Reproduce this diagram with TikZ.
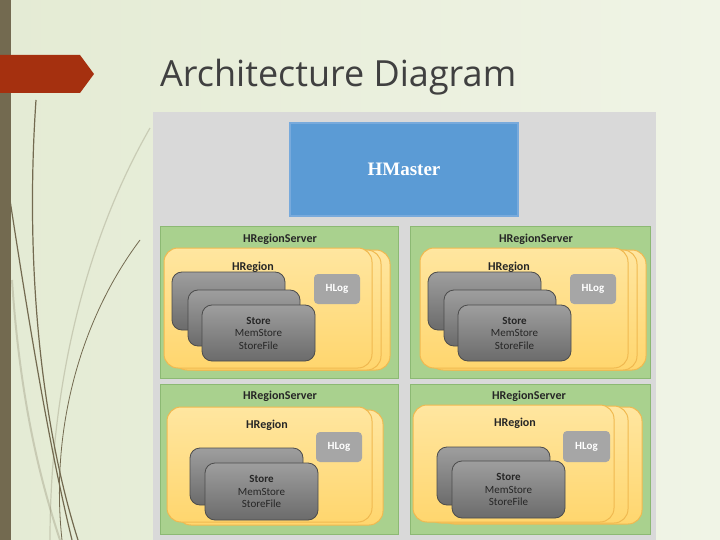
\documentclass[tikz,border=0pt]{standalone}
\usepackage{fontspec}
\setmainfont{Carlito}
\newfontfamily\titlefont{Open Sans}
\newfontfamily\serifb{Liberation Serif}
\definecolor{bgA}{RGB}{228,235,212}
\definecolor{bgB}{RGB}{240,244,230}
\definecolor{bark}{RGB}{115,106,80}
\definecolor{rust}{RGB}{165,48,15}
\definecolor{pgreen}{RGB}{169,209,142}
\definecolor{pgreenB}{RGB}{140,185,115}
\definecolor{regB}{RGB}{240,185,80}
\definecolor{regT}{RGB}{255,230,160}
\definecolor{regU}{RGB}{255,214,110}
\definecolor{hmB}{RGB}{120,170,220}
\definecolor{hmF}{RGB}{91,155,213}
\begin{document}
\begin{tikzpicture}[x=1pt,y=-1pt,
  panel/.style={draw=pgreenB,fill=pgreen,line width=0.8pt},
  region/.style={draw=regB,line width=1pt,rounded corners=14pt,top color=regT,bottom color=regU},
  store/.style={draw=black!70,line width=0.8pt,rounded corners=10pt,top color=black!38,bottom color=black!58},
  hlog/.style={fill=black!35,rounded corners=4pt,font=\bfseries\fontsize{11}{12}\selectfont,text=white},
  lbl/.style={font=\bfseries\fontsize{12}{13}\selectfont,text=black!85},
  stxt/.style={align=center,font=\fontsize{11}{12.5}\selectfont,text=black!85},
  grass/.style={draw=bark,line width=1.2pt}]
\useasboundingbox (0,0) rectangle (720,540);
\shade[left color=bgA,right color=bgB] (0,0) rectangle (720,540);
\fill[bark] (0,0) rectangle (11,540);
% grass
\draw[grass] (10,200) .. controls (30,330) and (50,450) .. (72,540);
\draw[grass] (36,100) .. controls (25,260) and (40,420) .. (78,540);
\draw[grass,line width=0.8pt] (140,240) .. controls (80,320) and (50,430) .. (62,540);
\draw[grass,opacity=0.25] (150,128) .. controls (80,250) and (50,400) .. (50,540);
\draw[grass,opacity=0.25,line width=2pt] (12,280) .. controls (20,400) and (40,480) .. (60,540);
% red arrow
\fill[rust] (0,55) -- (80,55) -- (94,74) -- (80,93) -- (0,93) -- cycle;
\node[anchor=base west,inner sep=0,font=\titlefont\fontsize{36}{36}\selectfont,text=black!75] (title) at (160,87) {Architecture Diagram};
% frame
\fill[black!15] (153,112) rectangle (656,540);
\node[draw=hmB,line width=1.5pt,fill=hmF,minimum width=228pt,minimum height=93pt,font=\serifb\bfseries\fontsize{19}{19}\selectfont,text=white] (hm) at (404,169.5) {HMaster};
% panels
\draw[panel] (160,226) rectangle (398,378);
\draw[panel] (410,226) rectangle (650,378);
\draw[panel] (160,384) rectangle (398,534);
\draw[panel] (410,384) rectangle (650,534);
\foreach \dx/\n in {0/a,256/b}{
 \begin{scope}[xshift=\dx]
 \node[lbl] (hrs\n) at (280,239) {HRegionServer};
 \draw[region] (182,250) rectangle (390,370);
 \draw[region] (173,250) rectangle (381,370);
 \draw[region] (164,248) rectangle (372,368);
 \node[lbl] (hr\n) at (253,267) {HRegion};
 \node[hlog,minimum width=46pt,minimum height=30pt] (hl\n) at (337,289) {HLog};
 \draw[store] (172,272) rectangle (285,330);
 \draw[store] (188,290) rectangle (300,346);
 \node[store,minimum width=113pt,minimum height=56pt,stxt] (st\n) at (258.5,333) {\textbf{Store}\\MemStore\\StoreFile};
 \end{scope}}
% bottom left
\node[lbl] (hrsc) at (280,396) {HRegionServer};
\draw[region] (177,410) rectangle (383,525);
\draw[region] (167,407) rectangle (372,522);
\node[lbl] (hrc) at (267,425) {HRegion};
\node[hlog,minimum width=46pt,minimum height=30pt] (hlc) at (339,447) {HLog};
\draw[store] (190,448) rectangle (303,505);
\node[store,minimum width=113pt,minimum height=57pt,stxt] (stc) at (261.5,491.5) {\textbf{Store}\\MemStore\\StoreFile};
% bottom right
\node[lbl] (hrsd) at (529,396) {HRegionServer};
\draw[region] (440,407) rectangle (642,524);
\draw[region] (427,406) rectangle (628,523);
\draw[region] (413,405) rectangle (614,522);
\node[lbl] (hrd) at (515,423) {HRegion};
\node[hlog,minimum width=47pt,minimum height=31pt] (hld) at (586.5,446.5) {HLog};
\draw[store] (437,447) rectangle (550,505);
\node[store,minimum width=113pt,minimum height=57pt,stxt] (std) at (508.5,489.5) {\textbf{Store}\\MemStore\\StoreFile};
\end{tikzpicture}
\end{document}
